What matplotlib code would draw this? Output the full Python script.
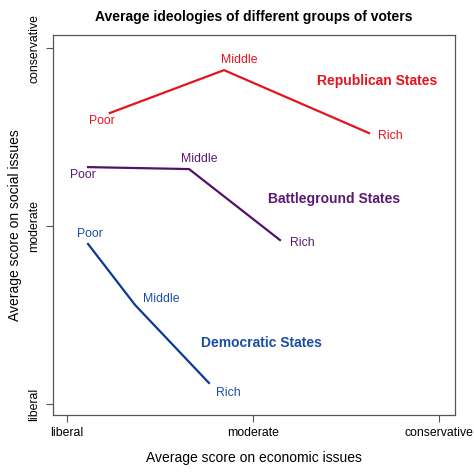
import matplotlib
matplotlib.use("Agg")
import matplotlib.pyplot as plt

plt.rcParams['font.family'] = ['Liberation Sans', 'DejaVu Sans']

# scale: -1 = liberal, 0 = moderate, 1 = conservative
levels = ["Poor", "Middle", "Rich"]
tick_pos = [-1, 0, 1]
tick_labels = ["liberal", "moderate", "conservative"]

rep_x = [-0.77, -0.156, 0.624]
rep_y = [0.635, 0.876, 0.522]
bat_x = [-0.887, -0.344, 0.145]
bat_y = [0.331, 0.32, -0.079]
dem_x = [-0.887, -0.634, -0.237]
dem_y = [-0.101, -0.444, -0.882]

groups = [
    ("Republican States", rep_x, rep_y, "#e3141e", "#e3141e", (0.667, 0.815),
     [(-6, -6), (11, 7), (15, -2)]),
    ("Battleground States", bat_x, bat_y, "#55106b", "#5a1a72", (0.435, 0.152),
     [(-4, -6), (7, 7), (16, -2)]),
    ("Democratic States", dem_x, dem_y, "#0a3a98", "#1b4ea3", (0.043, -0.66),
     [(1, 7), (19, 4), (14, -7)]),
]

fig = plt.figure(figsize=(4.74, 4.74), dpi=100)
ax = fig.add_axes([0.112, 0.1245, 0.848, 0.8015])

for name, xs, ys, lc, tc, pos, offs in groups:
    ax.plot(xs, ys, color=lc, linewidth=1.6)
    for lab, x, y, off in zip(levels, xs, ys, offs):
        ax.annotate(lab, (x, y), xytext=off, textcoords="offset points",
                    ha="center", va="center", color=tc, fontsize=8.8)
    ax.text(pos[0], pos[1], name, color=tc, fontsize=10, fontweight="bold",
            ha="center", va="center")

ax.set_xlim(-1.075, 1.086)
ax.set_ylim(-1.062, 1.073)
ax.set_xticks(tick_pos)
ax.set_xticklabels(tick_labels, fontsize=8.8)
ax.set_yticks(tick_pos)
ax.set_yticklabels(tick_labels, fontsize=8.8, rotation=90, va="center")
ax.tick_params(direction="out", length=5, width=0.8, color="#555555", pad=4)
for s in ax.spines.values():
    s.set_color("#555555")
    s.set_linewidth(0.9)

ax.set_xlabel("Average score on economic issues", fontsize=10, labelpad=8)
ax.set_ylabel("Average score on social issues", fontsize=10, labelpad=5)
ax.set_title("Average ideologies of different groups of voters", fontsize=10,
             fontweight="bold", pad=10)

fig.savefig("out.png", dpi=100)
